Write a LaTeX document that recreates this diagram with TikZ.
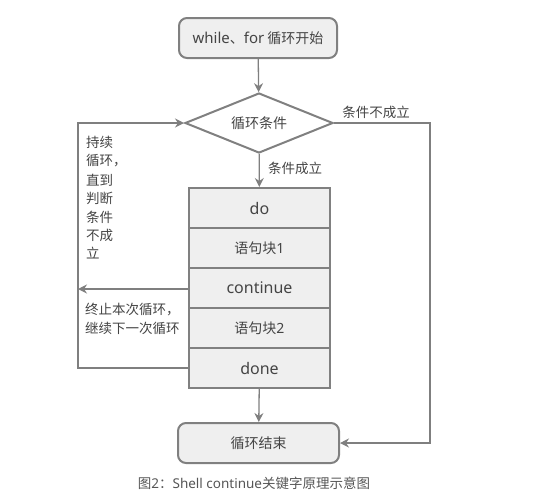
\documentclass[tikz,border=0pt]{standalone}
\usepackage{fontspec}
\setmainfont{Noto Sans CJK SC}
\newfontfamily\latinfont{Noto Sans}
\usetikzlibrary{arrows.meta,shapes.geometric}
\definecolor{linegray}{HTML}{7F7F7F}
\definecolor{boxgray}{HTML}{808080}
\definecolor{boxfill}{HTML}{EFEFEF}
\definecolor{textgray}{HTML}{444444}
\definecolor{capgray}{HTML}{555555}
\begin{document}
\begin{tikzpicture}[x=1pt,y=-1pt,
  conn/.style={draw=linegray, line width=1.3pt},
  arr/.style={conn, -{Stealth[length=9pt,width=9pt,inset=3pt]}},
  txt/.style={font=\fontsize{13.5}{16}\selectfont, text=textgray, inner sep=0pt},
  term/.style={draw=boxgray, line width=2pt, fill=boxfill, rounded corners=8pt,
    minimum height=40pt, font=\fontsize{14}{16}\selectfont, text=textgray},
  cell/.style={draw=boxgray, line width=2pt, fill=boxfill, minimum width=141pt,
    minimum height=40pt, font=\fontsize{14}{16}\selectfont, text=textgray},
  lat/.style={font=\latinfont\fontsize{16}{18}\selectfont},
  cond/.style={diamond, draw=boxgray, line width=2pt, fill=white, shape aspect=2.47,
    minimum width=148pt, minimum height=60pt, inner sep=0pt,
    font=\fontsize{14}{16}\selectfont, text=textgray}
]
\useasboundingbox (0,0) rectangle (547,499);

\node[term, minimum width=158pt] (start) at (258,38) {{\latinfont\fontsize{15}{16}\selectfont while}、{\latinfont\fontsize{15}{16}\selectfont for} 循环开始};
\node[cond] (cond) at (259,123) {循环条件};
\node[cell, lat] (c1) at (259.5,208) {do};
\node[cell] (c2) at (259.5,248) {语句块{\latinfont 1}};
\node[cell, lat] (c3) at (259.5,288) {continue};
\node[cell] (c4) at (259.5,328) {语句块{\latinfont 2}};
\node[cell, lat] (c5) at (259.5,368) {done};
\node[term, minimum width=161pt] (end) at (258.5,443) {循环结束};

\coordinate (rt) at (430,123);
\coordinate (lc) at (78,289);
\coordinate (lb) at (78,368);

\draw[arr] (start) -- (cond);
\draw[arr] (cond) -- (c1);
\draw[arr] (cond.east) -- (rt) |- (end.east);
\draw[arr] (c3.west |- lc) -- (lc);
\draw[arr] (c5.west) -- (lb) |- (cond.west);
\draw[arr] (c5) -- (end);

\node[txt] (lno) at (376,112) {条件不成立};
\node[txt] (lyes) at (295,168) {条件成立};

\node[txt, anchor=west] (k1) at (86,142) {持续};
\node[txt, anchor=west] (k2) at (86,161) {循环，};
\node[txt, anchor=west] (k3) at (86,180) {直到};
\node[txt, anchor=west] (k4) at (86,198) {判断};
\node[txt, anchor=west] (k5) at (86,217) {条件};
\node[txt, anchor=west] (k6) at (86,235) {不成};
\node[txt, anchor=west] (k7) at (86,253) {立};

\node[txt, anchor=west] (m1) at (85,310) {终止本次循环，};
\node[txt, anchor=west] (m2) at (85,328) {继续下一次循环};

\node[font=\fontsize{13.5}{16}\selectfont, text=capgray, inner sep=0pt] (cap) at (254,483) {图{\latinfont 2}：{\latinfont Shell continue}关键字原理示意图};
\end{tikzpicture}
\end{document}
